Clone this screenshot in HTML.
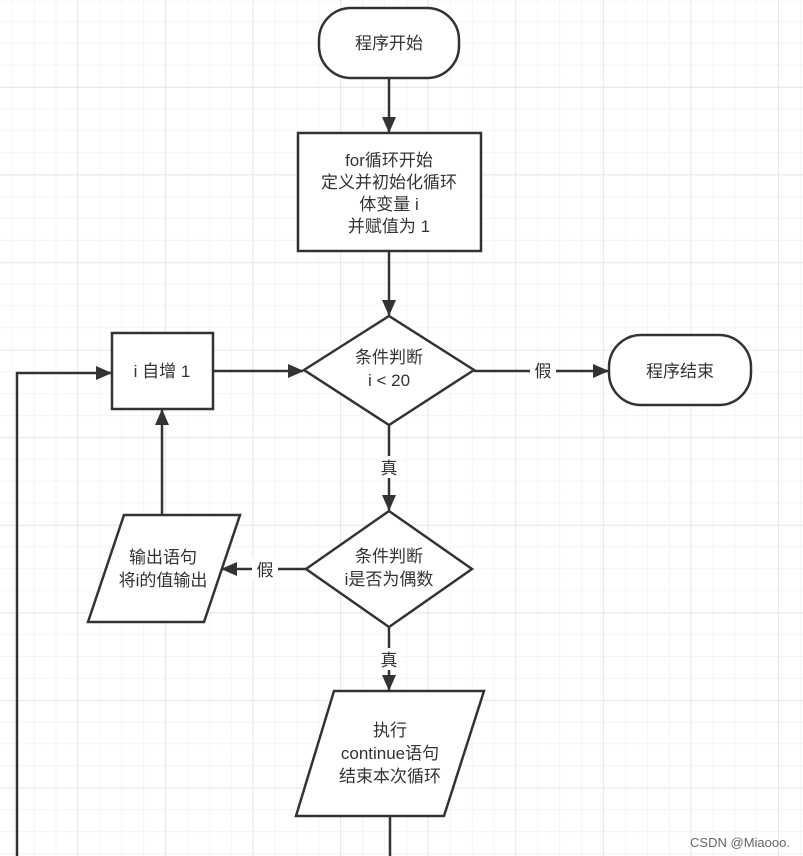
<!DOCTYPE html>
<html><head><meta charset="utf-8"><style>
html,body{margin:0;padding:0;background:#fff;}
svg{display:block;}
text{font-family:"Liberation Sans","Noto Sans CJK SC",sans-serif;font-size:17px;fill:#333;text-anchor:middle;}
</style></head><body>
<svg width="803" height="856" viewBox="0 0 803 856" xmlns="http://www.w3.org/2000/svg">
<defs>
<pattern id="g" x="-10" y="-1" width="21.9" height="21.9" patternUnits="userSpaceOnUse">
<path d="M0 0H21.9M0 0V21.9" stroke="#efefef" stroke-width="1.2" fill="none"/>
</pattern>
<pattern id="G" x="-10.4" y="-0.6" width="87.6" height="87.6" patternUnits="userSpaceOnUse">
<path d="M0 0H87.6M0 0V87.6" stroke="#e4e4e4" stroke-width="1.5" fill="none"/>
</pattern>
<marker id="a" markerWidth="16" markerHeight="14" refX="15" refY="7" orient="auto" markerUnits="userSpaceOnUse">
<path d="M0 0L16 7L0 14z" fill="#333"/>
</marker>
</defs>
<rect width="803" height="856" fill="url(#g)"/>
<rect width="803" height="856" fill="url(#G)"/>
<g stroke="#333" stroke-width="2.5" fill="#fff">
<rect x="319" y="8" width="140" height="70" rx="32"/>
<rect x="298" y="133" width="183" height="118"/>
<polygon points="304,370 389,316 474,370 389,425"/>
<rect x="609" y="335" width="142" height="70" rx="32"/>
<rect x="112" y="333" width="101" height="76"/>
<polygon points="306,569 389,511 472,569 389,627"/>
<polygon points="124,515 240,515 204,622 88,622"/>
<polygon points="334,691 484,691 444,816 296,816"/>
</g>
<g stroke="#333" stroke-width="2.5" fill="none" marker-end="url(#a)">
<line x1="389" y1="78" x2="389" y2="132"/>
<line x1="389" y1="251" x2="389" y2="315"/>
<line x1="474" y1="371" x2="608" y2="371"/>
<line x1="213" y1="371" x2="303" y2="371"/>
<polyline points="17,856 17,373 111,373"/>
<line x1="162" y1="515" x2="162" y2="410"/>
<line x1="306" y1="569" x2="222" y2="569"/>
<line x1="389" y1="425" x2="389" y2="510"/>
<line x1="389" y1="627" x2="389" y2="690"/>
</g>
<line x1="390" y1="816" x2="390" y2="856" stroke="#333" stroke-width="2.5"/>
<g fill="#fff">
<rect x="530" y="360" width="26" height="22"/>
<rect x="377" y="456" width="24" height="22"/>
<rect x="252" y="558" width="26" height="22"/>
<rect x="377" y="648" width="24" height="22"/>
</g>
<text x="389" y="49">程序开始</text>
<text x="389" y="166">for循环开始</text>
<text x="389" y="188">定义并初始化循环</text>
<text x="389" y="210">体变量 i</text>
<text x="389" y="232">并赋值为 1</text>
<text x="389" y="363">条件判断</text>
<text x="389" y="386">i &lt; 20</text>
<text x="680" y="377">程序结束</text>
<text x="162" y="377">i 自增 1</text>
<text x="543" y="377">假</text>
<text x="389" y="474">真</text>
<text x="389" y="562">条件判断</text>
<text x="389" y="585">i是否为偶数</text>
<text x="265" y="576">假</text>
<text x="389" y="666">真</text>
<text x="163" y="563">输出语句</text>
<text x="163" y="586">将i的值输出</text>
<text x="390" y="736">执行</text>
<text x="390" y="759">continue语句</text>
<text x="390" y="782">结束本次循环</text>
<text x="740" y="847" style="font-size:13px;fill:#666">CSDN @Miaooo.</text>
</svg>
</body></html>
